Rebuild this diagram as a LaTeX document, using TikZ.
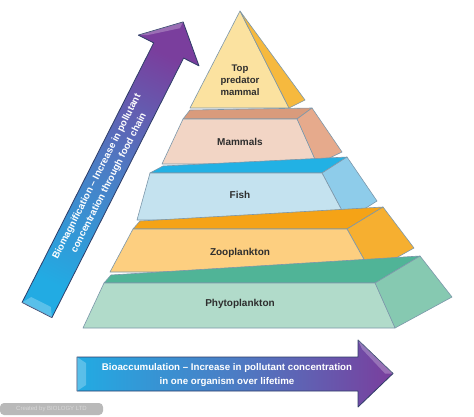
\documentclass[tikz,border=0pt]{standalone}
\usepackage{fontspec}
\setmainfont{Liberation Sans}
\definecolor{tieredge}{HTML}{7C97AA}
\definecolor{lbltext}{HTML}{2E2E2E}
\definecolor{arrowedge}{HTML}{2F3D68}
\definecolor{arrowblue}{HTML}{22ABE3}
\definecolor{arrowmid}{HTML}{4C7CC4}
\definecolor{arrowpurple}{HTML}{7A3E9D}
\definecolor{topfront}{HTML}{FBE2A0}
\definecolor{topside}{HTML}{F6B93E}
\definecolor{mamfront}{HTML}{F2D5C5}
\definecolor{mamband}{HTML}{D99B7C}
\definecolor{mamside}{HTML}{E6AA8C}
\definecolor{fishfront}{HTML}{C4E2EF}
\definecolor{fishband}{HTML}{22B1E4}
\definecolor{fishside}{HTML}{8ECCEA}
\definecolor{zoofront}{HTML}{FDCF80}
\definecolor{zooband}{HTML}{F5A316}
\definecolor{zooside}{HTML}{F6AF30}
\definecolor{phytofront}{HTML}{B1DBCA}
\definecolor{phytoband}{HTML}{50B497}
\definecolor{phytoside}{HTML}{86C9B1}
\begin{document}
\begin{tikzpicture}[x=1pt,y=-1pt,
	tier/.style={draw=tieredge,line width=0.6pt,line join=round},
	lbl/.style={font=\bfseries\fontsize{10}{12}\selectfont,text=lbltext,align=center},
	arrowbody/.style={draw=arrowedge,line width=0.8pt,line join=round},
	bevel/.style={fill=white,fill opacity=0.25},
	arrowtext/.style={font=\bfseries\fontsize{9.7}{13.5}\selectfont,text=white,align=center}]
	\useasboundingbox (0,0) rectangle (474,416);
	\fill[white] (0,0) rectangle (474,416);
	\filldraw[tier,fill=topfront] (240,11) -- (190,108) -- (289,108) -- cycle;
	\filldraw[tier,fill=topside] (240,11) -- (305,100) -- (289,108) -- cycle;
	\filldraw[tier,fill=mamband] (183,119) -- (190,110) -- (312,108) -- (297,119) -- cycle;
	\filldraw[tier,fill=mamside] (297,119) -- (312,108) -- (342,152) -- (317,164) -- cycle;
	\filldraw[tier,fill=mamfront] (183,119) -- (297,119) -- (317,164) -- (162,164) -- cycle;
	\filldraw[tier,fill=fishband] (150,173) -- (163,166) -- (347,157) -- (322,173) -- cycle;
	\filldraw[tier,fill=fishside] (322,173) -- (347,157) -- (377,201) -- (347,220) -- cycle;
	\filldraw[tier,fill=fishfront] (150,173) -- (322,173) -- (347,220) -- (137,220) -- cycle;
	\filldraw[tier,fill=zooband] (133,229) -- (140,221) -- (383,207) -- (347,229) -- cycle;
	\filldraw[tier,fill=zooside] (347,229) -- (383,207) -- (414,248) -- (371,272) -- cycle;
	\filldraw[tier,fill=zoofront] (133,229) -- (347,229) -- (371,272) -- (110,272) -- cycle;
	\filldraw[tier,fill=phytoband] (104,283) -- (111,275) -- (420,256) -- (375,283) -- cycle;
	\filldraw[tier,fill=phytoside] (375,283) -- (420,256) -- (452,297) -- (395,328) -- cycle;
	\filldraw[tier,fill=phytofront] (104,283) -- (375,283) -- (395,328) -- (83,328) -- cycle;
	\node[lbl,font=\bfseries\fontsize{9.6}{12}\selectfont] (toppred) at (240,80) {Top\\predator\\mammal};
	\node[lbl] (mammals) at (240,142) {Mammals};
	\node[lbl] (fish) at (240,195) {Fish};
	\node[lbl] (zooplankton) at (240,253) {Zooplankton};
	\node[lbl] (phytoplankton) at (240,304) {Phytoplankton};
	\begin{scope}[shift={(37,310)},rotate=63.1]
		\shade[arrowbody,bottom color=arrowblue,top color=arrowpurple,middle color=arrowmid,shading angle=-27]
			(0,-16.75) -- (291,-16.75) -- (291,-34) -- (323,0) -- (291,34) -- (291,16.75) -- (0,16.75) -- cycle;
		\fill[bevel] (0,-16.75) -- (9,-11) -- (9,11) -- (0,16.75) -- cycle;
		\fill[bevel] (291,-34) -- (295,-26) -- (316,0) -- (323,0) -- cycle;
		\node[arrowtext,rotate=63.1] (biomag) at (146,0) {Biomagnification -- Increase in pollutant\\concentration through food chain};
	\end{scope}
	\shade[arrowbody,left color=arrowblue,right color=arrowpurple,middle color=arrowmid]
		(77,357) -- (358,357) -- (358,340) -- (393,373.5) -- (358,407) -- (358,391) -- (77,391) -- cycle;
	\fill[bevel] (77,357) -- (86,363) -- (86,385) -- (77,391) -- cycle;
	\fill[bevel] (358,340) -- (362,349) -- (385,373.5) -- (393,373.5) -- cycle;
	\node[arrowtext] (bioacc) at (227,375) {Bioaccumulation -- Increase in pollutant concentration\\in one organism over lifetime};
	\node[fill=gray!55,rounded corners=4pt,minimum width=103pt,minimum height=12pt,inner sep=0pt,
		font=\fontsize{6}{7}\selectfont,text=gray!30] (credit) at (51.5,409) {Created by BIOLOGY LTD};
\end{tikzpicture}
\end{document}
